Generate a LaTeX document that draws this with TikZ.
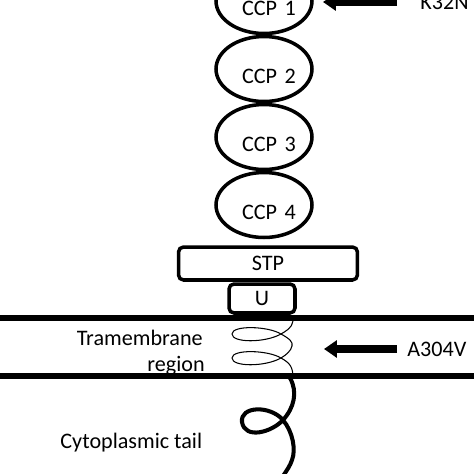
\documentclass[tikz,border=0pt]{standalone}
\usepackage{fontspec}
\setmainfont{Carlito}
\usetikzlibrary{shapes.geometric,arrows.meta}
\begin{document}
\begin{tikzpicture}[x=0.02cm,y=-0.02cm]
    \tikzstyle{every node}=[font=\fontsize{12.6}{15}\selectfont,inner sep=0pt];
    \tikzstyle{ccp}=[draw,shape=ellipse,line width=2pt,minimum width=1.92cm,minimum height=1.3cm,text width=1.27cm,align=right,text height=16pt,text depth=0pt];
    \tikzstyle{domainbox}=[draw,shape=rectangle,rounded corners=0.1cm,line width=2pt];
    \tikzstyle{membrane}=[line width=3.4pt];
    \tikzstyle{mutation}=[line width=5pt,-{Triangle[length=0.26cm,width=0.34cm]}];
    \useasboundingbox (0,0) rectangle (474,474);
    \clip (0,0) rectangle (474,474);

    \node at (264, 1)   (ccp1) [ccp] {CCP 1};
    \node at (264, 69)  (ccp2) [ccp] {CCP 2};
    \node at (264, 137) (ccp3) [ccp] {CCP 3};
    \node at (264, 205) (ccp4) [ccp] {CCP 4};
    \node at (262, 298.5) (u)   [domainbox,minimum width=1.32cm,minimum height=0.58cm] {U};
    \node at (268, 263.5) (stp) [domainbox,minimum width=3.58cm,minimum height=0.66cm] {STP};

    \coordinate (mt-l) at (0, 318);
    \coordinate (mt-r) at (474, 318);
    \coordinate (mb-l) at (0, 376);
    \coordinate (mb-r) at (474, 376);
    \draw[membrane] (mt-l) -- (mt-r);
    \draw[membrane] (mb-l) -- (mb-r);

    \node at (203, 345) (tm1)  [anchor=base east] {Tramembrane};
    \node at (205, 371) (tm2)  [anchor=base east] {region};
    \node at (60, 448)  (cyto) [anchor=base west] {Cytoplasmic tail};
    \node at (420, 2)   (k32n)  [anchor=west] {K32N};
    \node at (407, 349) (a304v) [anchor=west] {A304V};

    \coordinate (k32n-tip) at (323, 2);
    \coordinate (a304v-tip) at (324, 349);
    \draw[mutation,shorten <=0.46cm] (k32n.west) -- (k32n-tip);
    \draw[mutation,shorten <=0.2cm] (a304v.west) -- (a304v-tip);

    % helix through the membrane
    \coordinate (tm-top) at (293, 321);
    \coordinate (tm-bot) at (293, 378);
    \draw[line width=0.6pt] (tm-top) .. controls (292,328) and (286,331) .. (281,334)
        .. controls (265,343) and (232,343) .. (232,334)
        .. controls (232,325) and (268,326) .. (281,334)
        .. controls (290,339) and (293,342) .. (292,346)
        .. controls (291,351) and (286,355) .. (281,358)
        .. controls (265,367) and (232,367) .. (232,358)
        .. controls (232,349) and (268,350) .. (281,358)
        .. controls (290,363) and (293,367) .. (tm-bot);

    % tail
    \coordinate (tail-top) at (290, 378);
    \coordinate (tail-end) at (283, 476);
    \draw[line width=2.3pt] (tail-top) .. controls (298,392) and (294,408) .. (283,420)
        .. controls (272,432) and (245,440) .. (242,422)
        .. controls (240,406) and (270,405) .. (283,420)
        .. controls (293,432) and (296,450) .. (292,460)
        .. controls (290,466) and (287,470) .. (tail-end);
\end{tikzpicture}
\end{document}
